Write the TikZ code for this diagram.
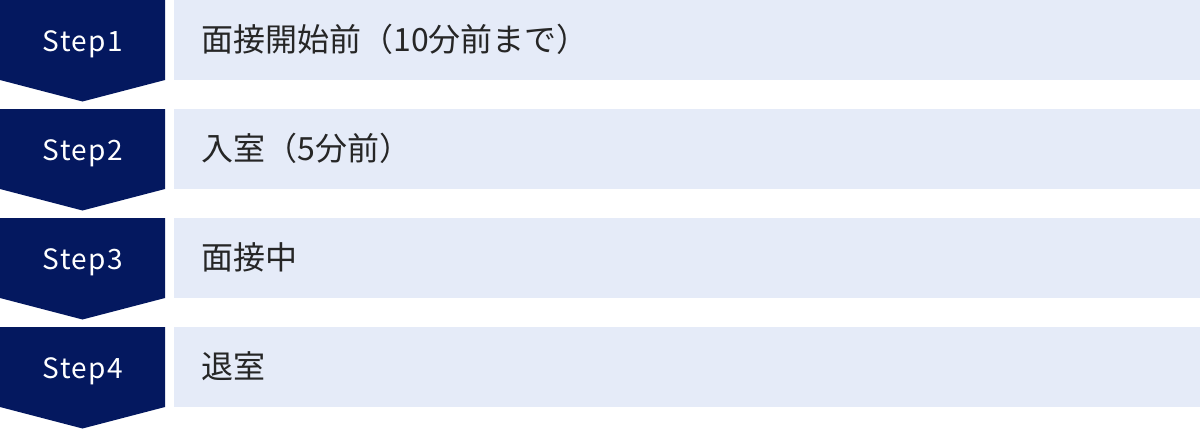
\documentclass[tikz,border=0pt]{standalone}
\usepackage{fontspec}
\setmainfont{Noto Sans CJK JP}
\newfontfamily\jpfont{Noto Sans CJK JP}
\newfontfamily\stepfont[LetterSpace=5]{Noto Sans CJK JP}
\definecolor{navy}{HTML}{04185F}
\definecolor{barblue}{HTML}{E5EBF8}
\tikzset{
  x=0.5pt, y=-0.5pt,
  stepshape/.style={fill=navy, draw=none},
  steplabel/.style={text=white, font=\stepfont\fontsize{14}{16}\selectfont, inner sep=0pt, anchor=base},
  bar/.style={fill=barblue, draw=none, anchor=north west, minimum width=513pt, minimum height=40pt, inner sep=0pt},
  bartext/.style={anchor=base west, inner sep=0pt, font=\jpfont\fontsize{16}{18}\selectfont, text=black!85},
}
\begin{document}
\begin{tikzpicture}
\useasboundingbox (0,0) rectangle (1200,429);
\foreach \i/\txt [count=\k from 0] in {1/面接開始前（10分前まで）, 2/入室（5分前）, 3/面接中, 4/退室}{
  \pgfmathsetmacro{\top}{\k*109}
  \fill[stepshape] (0,\top) -- (165,\top) -- (165,\top+80) -- (82.5,\top+101.5) -- (0,\top+80) -- cycle;
  \node[steplabel] (s\i) at (83,\top+51.5) {Step\i};
  \node[bar] (b\i) at (174,\top) {};
  \node[bartext] (t\i) at (201,\top+51.5) {\txt};
}
\end{tikzpicture}
\end{document}
